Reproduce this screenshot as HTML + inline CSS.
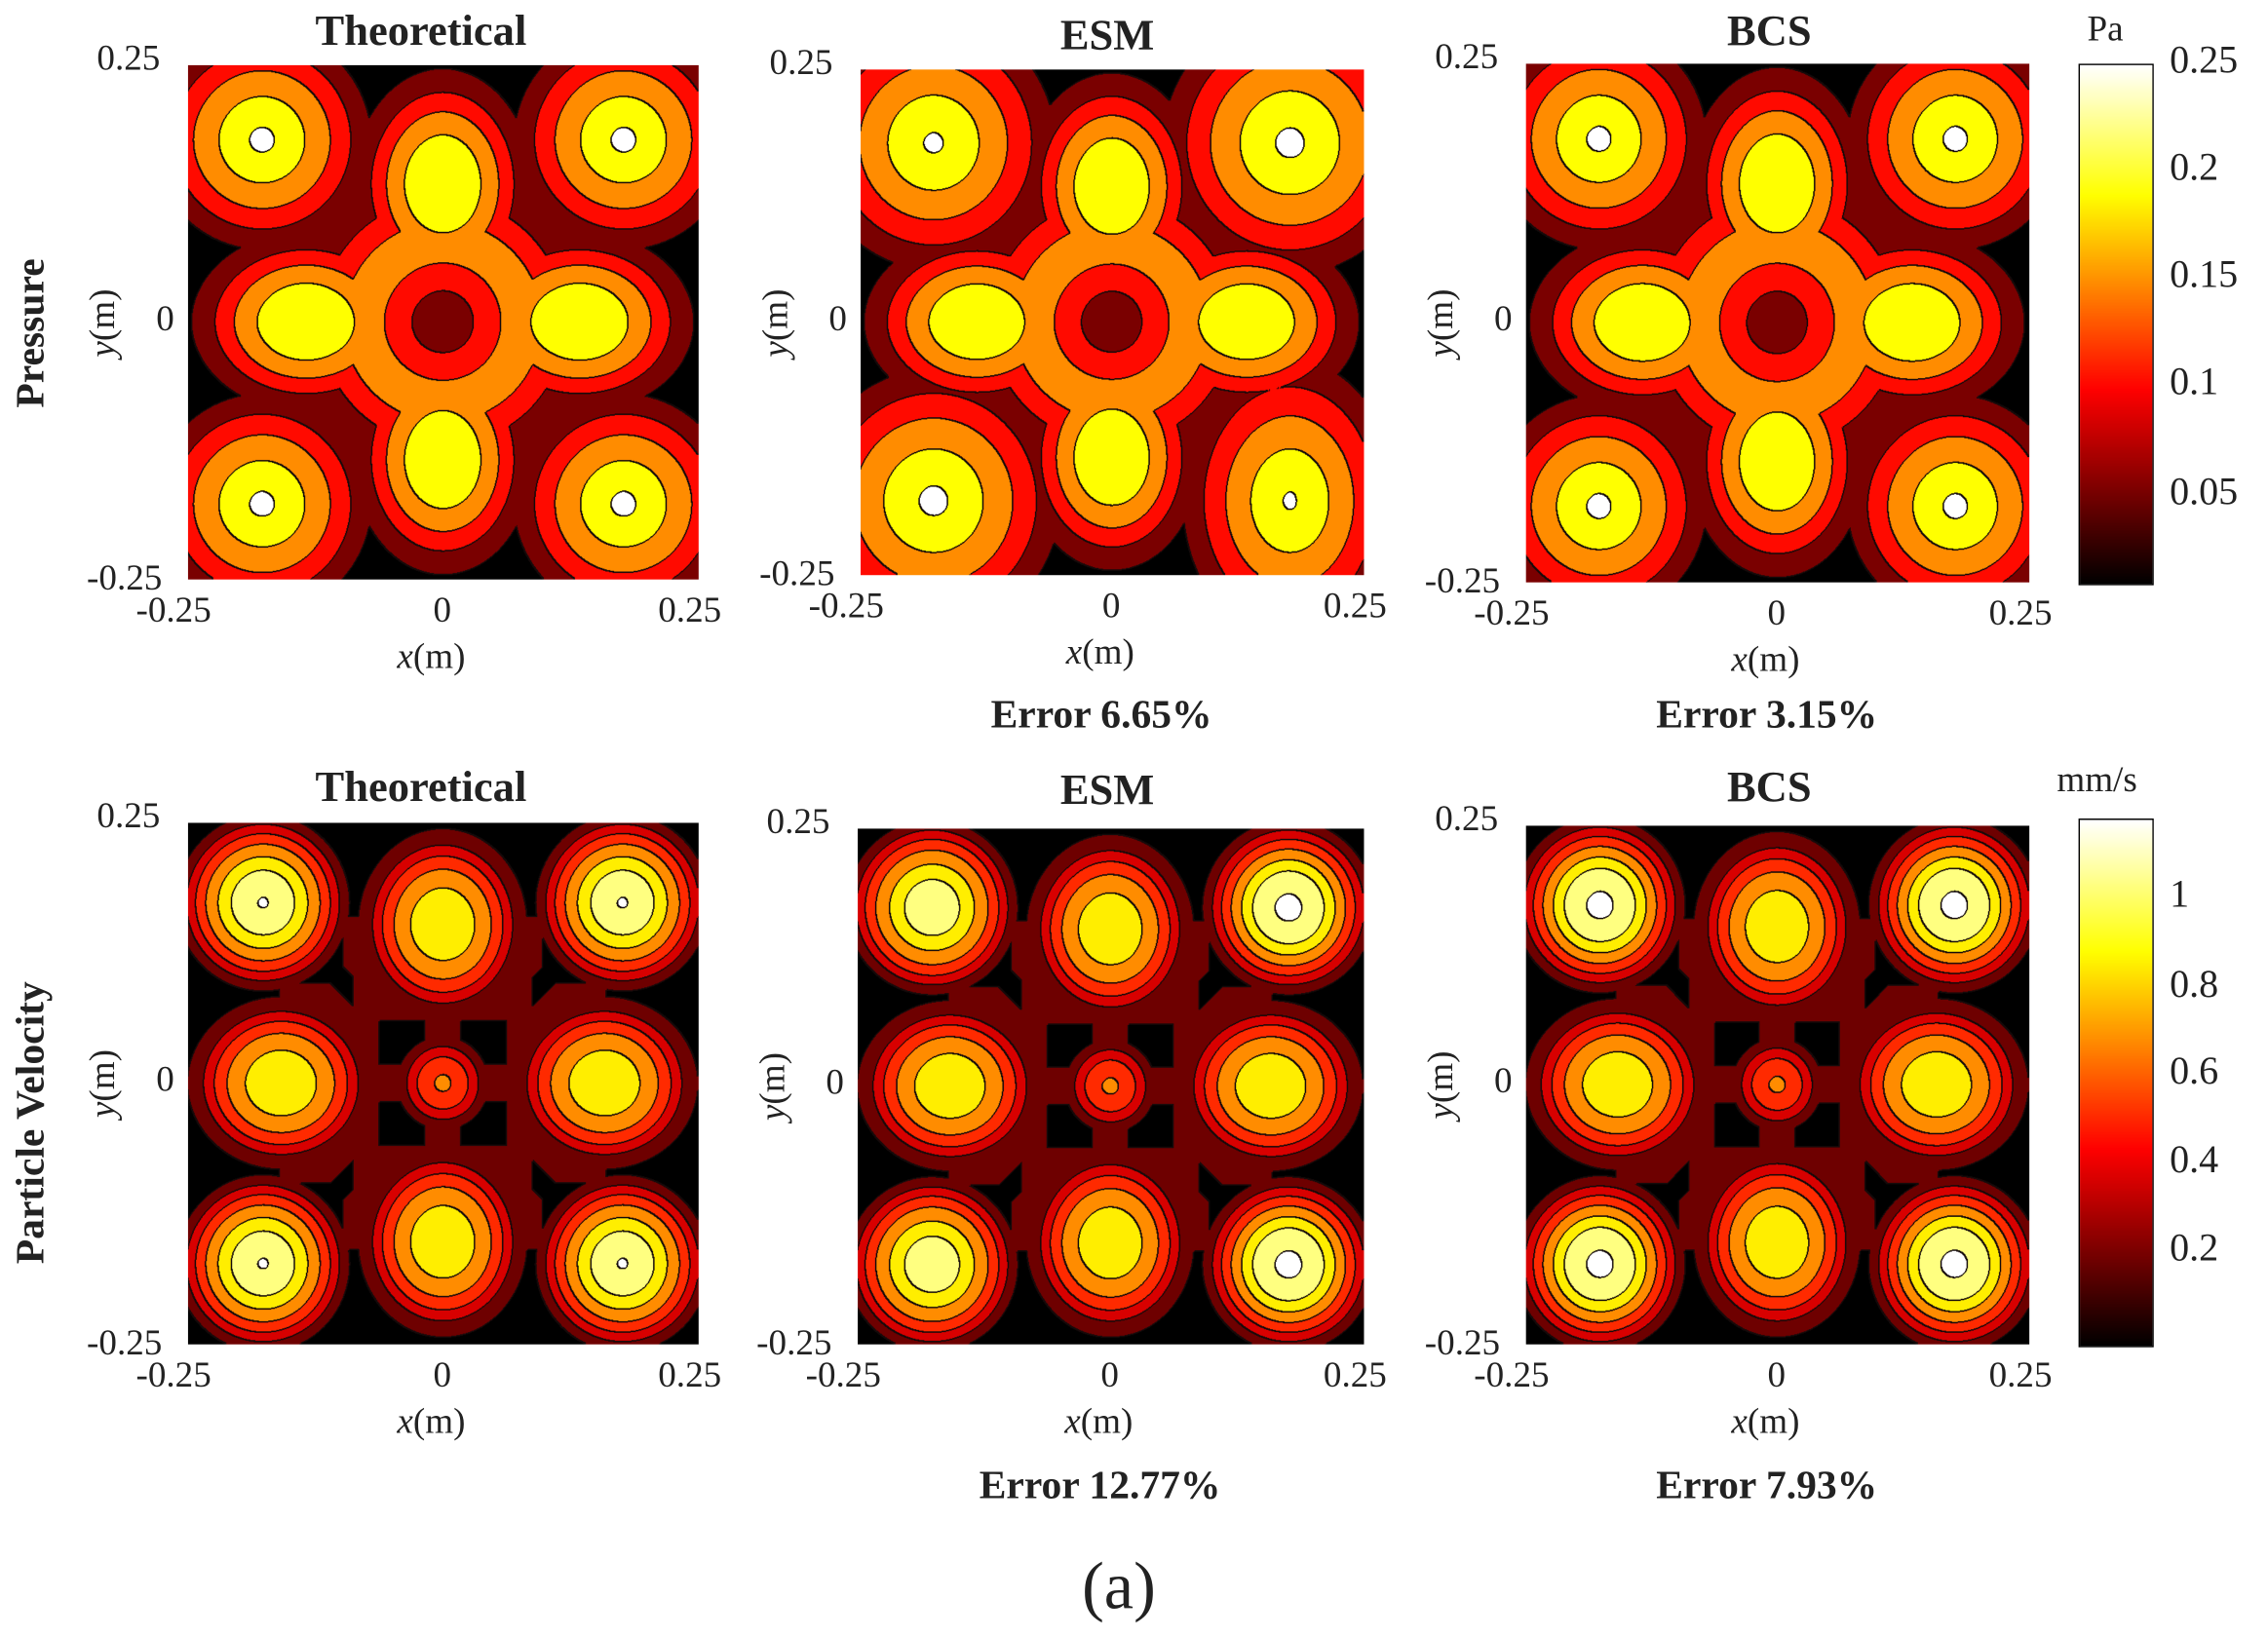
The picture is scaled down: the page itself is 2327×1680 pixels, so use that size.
<!DOCTYPE html>
<html><head><meta charset="utf-8">
<style>
html,body{margin:0;padding:0;background:#fff;}
body{width:2327px;height:1680px;overflow:hidden;position:relative;}
#w{position:absolute;left:0;top:0;width:1568px;height:1130px;transform-origin:0 0;transform:scale(1.48406,1.48673);font-family:"Liberation Serif",serif;color:#222;}
.t{position:absolute;white-space:nowrap;font-size:25px;}
.b{font-weight:bold;}
canvas{position:absolute;}
.rot{position:absolute;transform:translate(-50%,-50%) rotate(-90deg);white-space:nowrap;}
</style></head><body>
<div id="w">
<div class="t b" style="left:218px;top:5px;font-size:30px">Theoretical</div>
<div class="t b" style="left:733px;top:8px;font-size:30px">ESM</div>
<div class="t b" style="left:1194px;top:5px;font-size:30px">BCS</div>
<div class="t b" style="left:218px;top:527px;font-size:30px">Theoretical</div>
<div class="t b" style="left:733px;top:529px;font-size:30px">ESM</div>
<div class="t b" style="left:1194px;top:527px;font-size:30px">BCS</div>
<div class="rot b" style="left:22px;top:230px;font-size:28px">Pressure</div>
<div class="rot b" style="left:22px;top:775px;font-size:28px">Particle Velocity</div>
<div class="t b" style="left:685px;top:478px;font-size:28px">Error 6.65%</div>
<div class="t b" style="left:1145px;top:478px;font-size:28px">Error 3.15%</div>
<div class="t b" style="left:677px;top:1010px;font-size:28px">Error 12.77%</div>
<div class="t b" style="left:1145px;top:1010px;font-size:28px">Error 7.93%</div>
<div class="t" style="left:748px;top:1068px;font-size:46px">(a)</div>
<div class="t" style="left:1443px;top:7px;">Pa</div>
<div class="t" style="left:1422px;top:525px;">mm/s</div>
<div id="labels"></div>
</div>
<script>
const W=document.getElementById('w'),L=document.getElementById('labels');
function txt(x,y,s,extra){const d=document.createElement('div');d.className='t';d.style.left=x+'px';d.style.top=y+'px';d.innerHTML=s;if(extra)d.style.cssText+=extra;L.appendChild(d);return d;}
function pw(kx,ky,v){if(v<=kx[0])return ky[0];for(let i=1;i<kx.length;i++){if(v<=kx[i]){const t=(v-kx[i-1])/(kx[i]-kx[i-1]);return ky[i-1]+t*(ky[i]-ky[i-1]);}}const n=kx.length-1;const s=(ky[n]-ky[n-1])/(kx[n]-kx[n-1]);return ky[n]+s*(v-kx[n]);}
const plots=[
 [130,45,483,400,'P',0],[595,48,943,397,'P',1],[1055,44,1403,402,'P',2],
 [130,568,483,928,'V',0],[593,572,943,928,'V',1],[1055,570,1403,928,'V',2]];
const pCol=['#000000','#7a0000','#ff0a00','#ff8c00','#ffff00','#ffffff'],pTh=[0.03,0.07,0.11,0.155,0.225];
const vCol=['#000000','#6e0000','#d80000','#ff2a00','#ff8c00','#ffee00','#ffff80','#ffffff'],vTh=[0.12,0.25,0.4,0.55,0.7,0.85,1.15];
const CK=[0,0.012,0.042,0.067,0.087,0.107],CV=[0.25,0.225,0.155,0.11,0.07,0.03];
function fP(x,y,k){let v=0;const c=0.177;
 for(const sx of[-1,1])for(const sy of[-1,1]){
  let ex=1,ey=1,a=0;
  if(k==1){ex=0.85;ey=0.82;if(sx>0&&sy<0){ex=0.95;ey=0.72;a=0.012;}if(sx<0&&sy>0)a=0.008;}
  const dx=(x-sx*c)*ex,dy=(y-sy*c)*ey;v=Math.max(v,pw(CK,CV,Math.sqrt(dx*dx+dy*dy))-a);}
 const lo=0.134;let cr=-1;
 for(const [ax,ay] of [[1,0],[-1,0],[0,1],[0,-1]]){
  const along=(x*ax+y*ay)-lo, across=(x*ay-y*ax);
  const e=Math.sqrt((along/0.07)**2+(across/0.055)**2);
  cr=Math.max(cr,pw([0,0.68,1,1.27,1.6],[0.2,0.155,0.11,0.07,0.03],e));}
 const r=Math.sqrt(x*x+y*y);
 cr=Math.max(cr,pw([0,0.03,0.057,0.07,0.097,0.12,0.145],[0.05,0.07,0.11,0.13,0.11,0.07,0.03],r));
 let bg=0;const ax=Math.abs(x),ay=Math.abs(y);
 if(Math.abs(ax-ay)<0.075&&r<0.22&&r>0.08)bg=0.05;
 if(Math.abs(ax-ay)<0.01&&Math.abs(r-0.15)<0.01)bg=0;
 return Math.max(v,cr,bg);}
const PK={cor:[[0,0.005,0.031,0.044,0.056,0.066,0.075,0.085],[1.18,1.15,0.85,0.7,0.55,0.4,0.25,0.12]],
 side:[[0,0.033,0.05,0.062,0.072,0.087],[0.84,0.7,0.55,0.4,0.25,0.12]],
 cen:[[0,0.008,0.025,0.035,0.045],[0.6,0.55,0.4,0.25,0.12]]};
function fV(x,y,k){const xs=[-0.176,0,0.176],ys=[-0.173,0,0.173];let m=0;
 for(let i=0;i<3;i++)for(let j=0;j<3;j++){const cor=(i!=1&&j!=1),cen=(i==1&&j==1);
  let xx=xs[i],yy=ys[j],sx=1,sy=1,boost=0;
  if(cor){ if(k==2)boost=0.12; if(k==1&&i==2)boost=0.12; if(k==1&&i==0)boost=-0.08;}
  else if(!cen){ if(i==1){yy=ys[j]*0.88;sx=1.05;sy=0.95;} else {xx=xs[i]*0.9;sx=0.95;sy=1.05;} }
  const dx=(x-xx)*sx,dy=(y-yy)*sy;const r=Math.sqrt(dx*dx+dy*dy);
  const p=cor?PK.cor:cen?PK.cen:PK.side;
  m=Math.max(m,pw(p[0],p[1],r)+boost*Math.max(0,1-r/0.06));}
 const ax=Math.abs(x),ay=Math.abs(y);let bg=0;
 if((Math.abs(ay-0.078)<0.018&&ax<0.16)||(Math.abs(ax-0.08)<0.018&&ay<0.16))bg=0.18;
 if((ax<0.018&&ay<0.16)||(ay<0.018&&ax<0.16))bg=0.18;
 if(Math.abs(ax-ay)<0.014&&Math.abs(ax-0.1)<0.012)bg=0;
 return Math.max(m,bg);}
for(const[p0,q0,p1,q1,t,k]of plots){
 const w=p1-p0,h=q1-q0,R=2,cw=Math.round(w*R),ch=Math.round(h*R);
 const cv=document.createElement('canvas');cv.width=cw;cv.height=ch;cv.style.left=p0+'px';cv.style.top=q0+'px';cv.style.width=w+'px';cv.style.height=h+'px';
 W.appendChild(cv);const ctx=cv.getContext('2d');const im=ctx.createImageData(cw,ch);
 const th=t=='P'?pTh:vTh,col=(t=='P'?pCol:vCol).map(c=>[parseInt(c.substr(1,2),16),parseInt(c.substr(3,2),16),parseInt(c.substr(5,2),16)]);
 const lv=new Uint8Array(cw*ch);
 for(let j=0;j<ch;j++)for(let i=0;i<cw;i++){const x=-0.25+0.5*(i+0.5)/cw,y=0.25-0.5*(j+0.5)/ch;const f=t=='P'?fP(x,y,k):fV(x,y,k);let l=0;while(l<th.length&&f>th[l])l++;lv[j*cw+i]=l;}
 for(let j=0;j<ch;j++)for(let i=0;i<cw;i++){const id=j*cw+i;let l=lv[id],c=col[l];
  if((i<cw-1&&lv[id+1]!=l)||(j<ch-1&&lv[id+cw]!=l)||(i<cw-2&&lv[id+2]!=l)||(j<ch-2&&lv[id+2*cw]!=l))c=[20,10,10];
  im.data[id*4]=c[0];im.data[id*4+1]=c[1];im.data[id*4+2]=c[2];im.data[id*4+3]=255;}
 ctx.putImageData(im,0,0);
 txt(p0-63,q0-18,'0.25');txt(p0-70,q1-14,'-0.25');txt(p0-22,(q0+q1)/2-16,'0');
 txt(p0-36,q1+8,'-0.25');txt((p0+p1)/2-7,q1+8,'0');txt(p1-28,q1+8,'0.25');
 txt((p0+p1)/2-32,q1+40,'<i>x</i>(m)');
 const d=document.createElement('div');d.className='rot';d.style.left=(p0-58)+'px';d.style.top=((q0+q1)/2)+'px';d.style.fontSize='25px';d.innerHTML='<i>y</i>(m)';L.appendChild(d);
}
function cbar(x0,y0,y1){const cv=document.createElement('canvas');const h=y1-y0;cv.width=50;cv.height=h;cv.style.left=x0+'px';cv.style.top=y0+'px';cv.style.border='1px solid #000';W.appendChild(cv);const c=cv.getContext('2d');
 for(let j=0;j<h;j++){const t=1-j/h;let r=Math.min(1,t/0.375),g=Math.min(1,Math.max(0,(t-0.375)/0.375)),b=Math.min(1,Math.max(0,(t-0.75)/0.25));c.fillStyle=`rgb(${r*255|0},${g*255|0},${b*255|0})`;c.fillRect(0,j,50,1);}}
cbar(1437,44,402);cbar(1437,565,928);
[['0.25',44],['0.2',118],['0.15',192],['0.1',266],['0.05',342]].forEach(([s,y])=>txt(1500,y-18,s,'font-size:27px'));
[['1',620],['0.8',682],['0.6',742],['0.4',803],['0.2',864]].forEach(([s,y])=>txt(1500,y-18,s,'font-size:27px'));
</script>
</body></html>
